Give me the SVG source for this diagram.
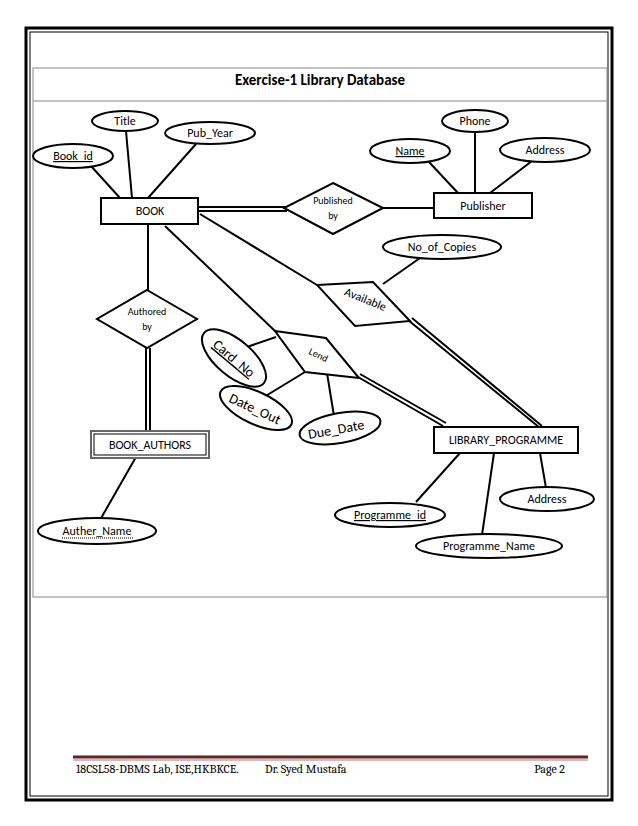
<svg xmlns="http://www.w3.org/2000/svg" width="638" height="826" viewBox="0 0 638 826">
<style>
.s{fill:#fff;stroke:#000;stroke-width:2}
.l{stroke:#000;stroke-width:2;fill:none}
.t{font-family:Calibri,Carlito,"Liberation Sans",sans-serif;font-size:12px;fill:#000}
.sm{font-size:10px}
</style>
<rect width="638" height="826" fill="#fff"/>
<rect x="26" y="28" width="586" height="772" fill="none" stroke="#000" stroke-width="3"/>
<rect x="30" y="32" width="578" height="764" fill="none" stroke="#000" stroke-width="1"/>
<rect x="33" y="68" width="574" height="529" fill="none" stroke="#888" stroke-width="1"/>
<line x1="33" y1="101" x2="607" y2="101" stroke="#888"/>
<text x="320" y="85" text-anchor="middle" class="t" style="font-size:15px;font-weight:bold">Exercise-1 Library Database</text>
<g id="connectors">
<line class="l" x1="126" y1="131" x2="132" y2="198"/>
<line class="l" x1="91" y1="166" x2="120" y2="198"/>
<line class="l" x1="196" y1="144" x2="148" y2="198"/>
<path class="l" stroke-width="1" d="M198 207H287M198 211H287"/>
<line class="l" x1="383" y1="208" x2="434" y2="208"/>
<line class="l" x1="429" y1="162" x2="458" y2="193"/>
<line class="l" x1="475" y1="132" x2="475" y2="193"/>
<line class="l" x1="532" y1="161" x2="490" y2="193"/>
<line class="l" x1="148" y1="224" x2="148" y2="290"/>
<path class="l" stroke-width="1" d="M146 348V431M150 348V431"/>
<line class="l" x1="200" y1="214" x2="317" y2="285"/>
<line class="l" x1="165" y1="226" x2="275" y2="331"/>
<line class="l" x1="420" y1="258" x2="383" y2="284"/>
<path class="l" stroke-width="1" d="M408 320L540 428M412 318L542 426"/>
<path class="l" stroke-width="1" d="M358 377L443 426M360 374L446 423"/>
<line class="l" x1="244" y1="348" x2="276" y2="337"/>
<line class="l" x1="305" y1="372" x2="264" y2="397"/>
<line class="l" x1="327" y1="373" x2="334" y2="416"/>
<line class="l" x1="136" y1="457" x2="100" y2="520"/>
<line class="l" x1="460" y1="453" x2="416" y2="502"/>
<line class="l" x1="494" y1="453" x2="482" y2="535"/>
<line class="l" x1="540" y1="453" x2="546" y2="488"/>
</g>
<g id="title"><ellipse class="s" cx="125" cy="121" rx="33" ry="10"/><text class="t" x="125" y="125" text-anchor="middle">Title</text></g>
<g id="pub_year"><ellipse class="s" cx="210" cy="133" rx="45" ry="11"/><text class="t" x="210" y="137" text-anchor="middle">Pub_Year</text></g>
<g id="book_id"><ellipse class="s" cx="73" cy="156" rx="40" ry="12"/><text class="t" x="73" y="160" text-anchor="middle" text-decoration="underline">Book_id</text></g>
<g id="book"><rect class="s" x="101" y="198" width="97" height="26"/><text class="t" x="150" y="215" text-anchor="middle">BOOK</text></g>
<g id="published"><polygon class="s" points="333,183 383,208 333,234 284,208"/><text class="t sm" x="333" y="204" text-anchor="middle">Published</text><text class="t sm" x="333" y="219" text-anchor="middle">by</text></g>
<g id="publisher"><rect class="s" x="434" y="193" width="98" height="25"/><text class="t" x="483" y="210" text-anchor="middle">Publisher</text></g>
<g id="phone"><ellipse class="s" cx="475" cy="121" rx="33" ry="11"/><text class="t" x="475" y="125" text-anchor="middle">Phone</text></g>
<g id="name"><ellipse class="s" cx="410" cy="151" rx="40" ry="12"/><text class="t" x="410" y="155" text-anchor="middle" text-decoration="underline">Name</text></g>
<g id="address1"><ellipse class="s" cx="545" cy="150" rx="45" ry="12"/><text class="t" x="545" y="154" text-anchor="middle">Address</text></g>
<g id="copies"><ellipse class="s" cx="442" cy="247" rx="59" ry="12"/><text class="t" x="442" y="251" text-anchor="middle">No_of_Copies</text></g>
<g id="available"><polygon class="s" points="317,285 373,282 410,321 355,326"/><text class="t" x="364" y="303" text-anchor="middle" transform="rotate(22 364 303)">Available</text></g>
<g id="authored"><polygon class="s" points="147,290 197,319 147,348 97,319"/><text class="t sm" x="147" y="315" text-anchor="middle">Authored</text><text class="t sm" x="147" y="330" text-anchor="middle">by</text></g>
<g id="lend"><polygon class="s" points="275,331 326,338 359,378 305,372"/><text class="t sm" x="317" y="358" text-anchor="middle" transform="rotate(25 317 358)">Lend</text></g>
<g id="card_no"><ellipse class="s" cx="234" cy="358" rx="39" ry="18" transform="rotate(40 234 358)"/><text class="t" x="231" y="362" text-anchor="middle" transform="rotate(40 231 362)" style="font-size:14px" text-decoration="underline">Card_No</text></g>
<g id="date_out"><ellipse class="s" cx="256" cy="408" rx="39" ry="16" transform="rotate(25 256 408)"/><text class="t" x="253" y="413" text-anchor="middle" transform="rotate(25 253 413)" style="font-size:14px">Date_Out</text></g>
<g id="due_date"><ellipse class="s" cx="340" cy="428" rx="41" ry="15" transform="rotate(-10 340 428)"/><text class="t" x="337" y="434" text-anchor="middle" transform="rotate(-10 337 434)" style="font-size:14px">Due_Date</text></g>
<g id="book_authors"><rect x="91" y="431" width="118" height="27" fill="#fff" stroke="#666" stroke-width="2"/><rect x="94" y="434" width="112" height="21" fill="none" stroke="#000" stroke-width="1"/><text class="t" x="150" y="449" text-anchor="middle">BOOK_AUTHORS</text></g>
<g id="auther_name"><ellipse class="s" cx="97" cy="531" rx="59" ry="13"/><text class="t" x="97" y="535" text-anchor="middle">Auther_Name</text><line x1="62" y1="538" x2="133" y2="538" stroke="#000" stroke-dasharray="1 1"/></g>
<g id="library_programme"><rect class="s" x="434" y="427" width="144" height="26"/><text class="t" x="506" y="444" text-anchor="middle">LIBRARY_PROGRAMME</text></g>
<g id="programme_id"><ellipse class="s" cx="390" cy="515" rx="55" ry="12"/><text class="t" x="390" y="519" text-anchor="middle" text-decoration="underline">Programme_id</text></g>
<g id="address2"><ellipse class="s" cx="547" cy="499" rx="47" ry="12"/><text class="t" x="547" y="503" text-anchor="middle">Address</text></g>
<g id="programme_name"><ellipse class="s" cx="489" cy="546" rx="73" ry="12"/><text class="t" x="489" y="550" text-anchor="middle">Programme_Name</text></g>
<line x1="73" y1="757" x2="588" y2="757" stroke="#622" stroke-width="3"/>
<line x1="73" y1="760" x2="588" y2="760" stroke="#a77" stroke-width="1"/>
<g font-family="Cambria,Caladea,'Liberation Serif',serif" font-size="12" fill="#000">
<text x="76" y="773">18CSL58-DBMS Lab, ISE,HKBKCE.</text>
<text x="265" y="773">Dr. Syed Mustafa</text>
<text x="565" y="773" text-anchor="end">Page 2</text>
</g>
</svg>
